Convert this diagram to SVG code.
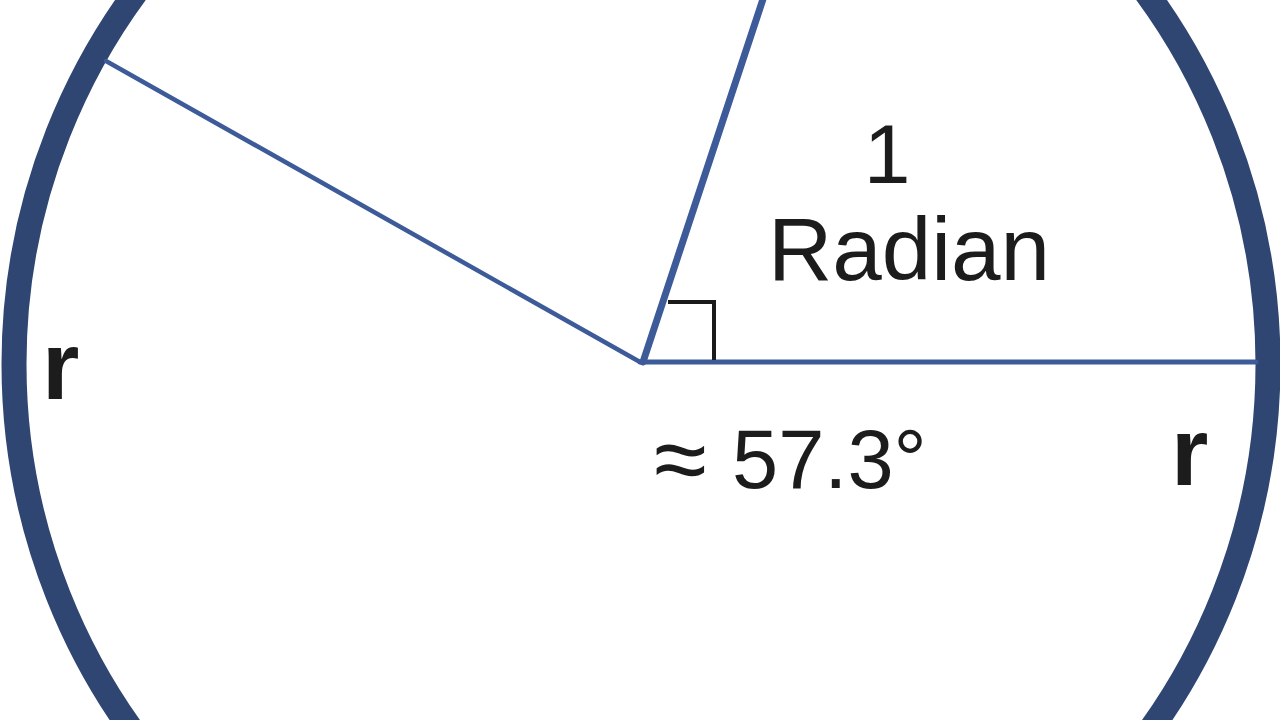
<svg xmlns="http://www.w3.org/2000/svg" width="1280" height="720" viewBox="0 0 1280 720">
<style>
.ray{stroke:#3d5a99;fill:none;stroke-linecap:round}
.lbl{font-family:"Liberation Sans",Arial,sans-serif;fill:#1c1c1c}
.r{font-family:"Liberation Sans",Arial,sans-serif;font-weight:bold;fill:#1c1c1c}
</style>
<rect width="1280" height="720" fill="#ffffff"/>
<g id="circle">
<circle cx="641" cy="364" r="627" fill="none" stroke="#2f4572" stroke-width="25"/>
</g>
<g id="connectors">
<line class="ray" x1="640" y1="362" x2="106" y2="61" stroke-width="4.5"/>
<line class="ray" x1="643" y1="362" x2="766" y2="-10" stroke-width="7"/>
<line class="ray" x1="640" y1="362" x2="1256" y2="362" stroke-width="5"/>
</g>
<g id="right-angle">
<polyline points="668,302 714,302 714,360" fill="none" stroke="#1a1a1a" stroke-width="4"/>
</g>
<g id="label-radian">
<text class="lbl" x="887" y="183" font-size="84" text-anchor="middle">1</text>
<text class="lbl" x="909" y="280" font-size="89" text-anchor="middle">Radian</text>
</g>
<g id="label-degrees">
<text class="lbl" y="488" font-size="83"><tspan x="654" font-size="96" dy="4">≈</tspan><tspan x="732" dy="-4">57.3°</tspan></text>
</g>
<g id="label-r-left">
<text class="r" x="42" y="399" font-size="96">r</text>
</g>
<g id="label-r-right">
<text class="r" x="1171" y="485" font-size="96">r</text>
</g>
</svg>
